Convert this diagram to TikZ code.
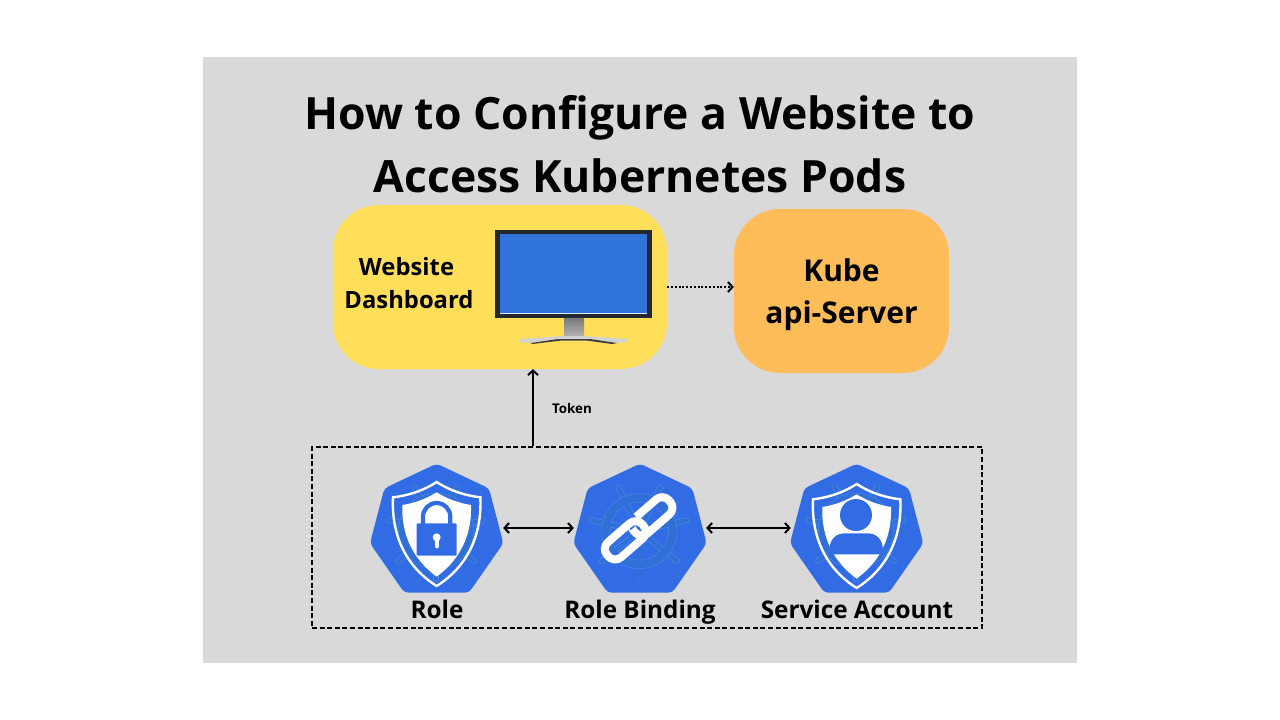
\documentclass[tikz,border=0pt]{standalone}
\usepackage{fontspec}
\setmainfont{Open Sans}
\usetikzlibrary{arrows.meta,calc}
\definecolor{panel}{HTML}{D9D9D9}
\definecolor{kblue}{HTML}{326CE5}
\definecolor{kwheel}{HTML}{2F6FD6}
\definecolor{kline}{HTML}{4F8CE8}
\definecolor{screenblue}{HTML}{3074DB}
\definecolor{bezel}{HTML}{23282E}
\definecolor{webyellow}{HTML}{FFDE59}
\definecolor{apiorange}{HTML}{FFBD59}
\tikzset{
  px/.style={x=1pt,y=-1pt},
  local/.style={x=0.3333pt,y=-0.3333pt},
  flow/.style={line width=2pt,draw=black,{Straight Barb[length=4.5pt,width=10pt]}-{Straight Barb[length=4.5pt,width=10pt]}},
  upflow/.style={line width=2pt,draw=black,-{Straight Barb[length=4.5pt,width=10pt]}},
  dotflow/.style={line width=2pt,draw=black,dash pattern=on 2pt off 1.8pt,-{Straight Barb[length=4.5pt,width=10pt]}},
  boxed/.style={rounded corners=46pt,inner sep=0pt},
  label/.style={font=\bfseries\fontsize{24.3}{28}\selectfont,inner sep=0pt,text=black,anchor=base},
  badge/.style={minimum width=132pt,minimum height=128pt,inner sep=0pt},
  chainlink/.style={white,line width=8pt,line join=round,rounded corners=9pt},
}
\newcommand{\badgeback}{%
  \fill[kblue,rounded corners=4pt] (230,26) -- (387,100) -- (430,265) -- (327,413) -- (133,413) -- (30,265) -- (73,100) -- cycle;
  \foreach \a in {90,38.57,-12.86,-64.29,-115.71,-167.14,141.43} {
    \draw[kline,line width=5.6pt,line cap=round] (228,228) -- ++(\a:145);
    \draw[kwheel,line width=4.4pt,line cap=round] (228,228) -- ++(\a:145);
  }
  \draw[kline,line width=9pt] (228,228) circle[radius=100];
  \draw[kwheel,line width=8pt] (228,228) circle[radius=100];
  \foreach \a in {90,38.57,-12.86,-64.29,-115.71,-167.14,141.43}
    \draw[kwheel,line width=3.2pt] (228,228) -- ++(\a:100);
}
\newcommand{\shield}{%
  \draw[white,line width=2.4pt,line join=miter] (230,81) .. controls (275,110) and (320,122) .. (361,127)
     .. controls (366,230) and (330,330) .. (230,393)
     .. controls (130,330) and (94,230) .. (99,127)
     .. controls (140,122) and (185,110) .. (230,81) -- cycle;
  \fill[white] (230,112) .. controls (262,132) and (300,145) .. (333,150)
     .. controls (336,235) and (305,310) .. (230,365)
     .. controls (155,310) and (124,235) .. (127,150)
     .. controls (160,145) and (198,132) .. (230,112) -- cycle;
}
\begin{document}
\begin{tikzpicture}[px]
\useasboundingbox (0,0) rectangle (1280,720);
\fill[white] (0,0) rectangle (1280,720);
\fill[panel] (203,57) rectangle (1077,663);
\node[font=\bfseries\fontsize{44.5}{63}\selectfont,align=center,inner sep=0pt,text=black] (title) at (640,144) {How to Configure a Website to\\Access Kubernetes Pods};

\node[boxed,fill=webyellow,minimum width=334pt,minimum height=164pt] (web) at (500,287) {};
\node[boxed,fill=apiorange,minimum width=215pt,minimum height=164pt] (api) at (841.5,291) {};
\node[font=\bfseries\fontsize{23.8}{33}\selectfont,align=center,inner sep=0pt] (webt) at (409,283) {\hspace*{-5pt}Website\\Dashboard};
\node[font=\bfseries\fontsize{30}{42}\selectfont,align=center,inner sep=0pt] (apit) at (841.5,295) {Kube\\api-Server};

\fill[bezel] (495,230) rectangle (652,318);
\fill[screenblue] (500,234) rectangle (647,313);
\draw[white!85!screenblue,line width=0.6pt] (500,313) -- (647,313);
\shade[top color=gray!95!black,bottom color=gray!55] (564,318) rectangle (584,338);
\fill[gray!35] (564,336) -- (584,336) -- (627,339) -- (628,342) -- (617,343) -- (590,339) -- (558,339) -- (531,343) -- (519,342) -- (520,339) -- cycle;
\fill[black!75] (558,339) -- (590,339) -- (617,343) -- (612,344) -- (586,340.5) -- (562,340.5) -- (532,344) -- (531,343) -- cycle;

\node[draw=black,line width=1.6pt,dash pattern=on 5pt off 2.6pt,minimum width=670pt,minimum height=181pt,inner sep=0pt] (frame) at (647,537.5) {};

\node[badge] (role) at (437,528) {};
\node[badge] (bind) at (640,528) {};
\node[badge] (sa) at (857,528) {};

\begin{scope}[shift={(360,455)},local]
  \badgeback
  \shield
  \fill[kblue,rounded corners=1pt] (170,205) rectangle (290,302);
  \draw[kblue,line width=4.2pt] (189,210) -- (189,185) arc[start angle=180,end angle=360,radius=41] -- (271,210);
  \fill[white] (230,247) circle[radius=12];
  \draw[white,line width=4.2pt,line cap=round] (230,250) -- (230,274);
\end{scope}

\begin{scope}[shift={(563.33,455)},local]
  \badgeback
  \begin{scope}[shift={(266,184)},rotate=41]
    \draw[chainlink] (-70,-30) rectangle (70,30);
  \end{scope}
  \begin{scope}[shift={(186,256)},rotate=41]
    \draw[kblue,line width=11.5pt] (32,-30) -- (70,-30);
    \draw[chainlink] (-70,-30) rectangle (70,30);
  \end{scope}
\end{scope}

\begin{scope}[shift={(780,455)},local]
  \badgeback
  \begin{scope}[yshift=-2pt]
  \shield
  \end{scope}
  \fill[kblue] (228,180) circle[radius=48];
  \fill[kblue] (148,283) .. controls (150,255) and (165,235) .. (195,235) -- (262,235) .. controls (292,235) and (307,255) .. (309,283) -- (309,290) -- (300,298) -- (158,298) -- (148,290) -- cycle;
\end{scope}

\node[label] (rolet) at (437,618) {Role};
\node[label] (bindt) at (640,618) {Role Binding};
\node[label] (sat) at (857,618) {Service Account};
\node[font=\bfseries\fontsize{13.4}{15}\selectfont,inner sep=0pt] (token) at (572,408) {Token};

\coordinate (tok) at (533,408);
\draw[upflow] (frame.north -| tok) -- (web.south -| tok);
\draw[dotflow] (web.east |- 0,287) -- (api.west |- 0,287);
\draw[flow] (role.east) -- (bind.west);
\draw[flow] (bind.east) -- (sa.west);
\end{tikzpicture}
\end{document}
